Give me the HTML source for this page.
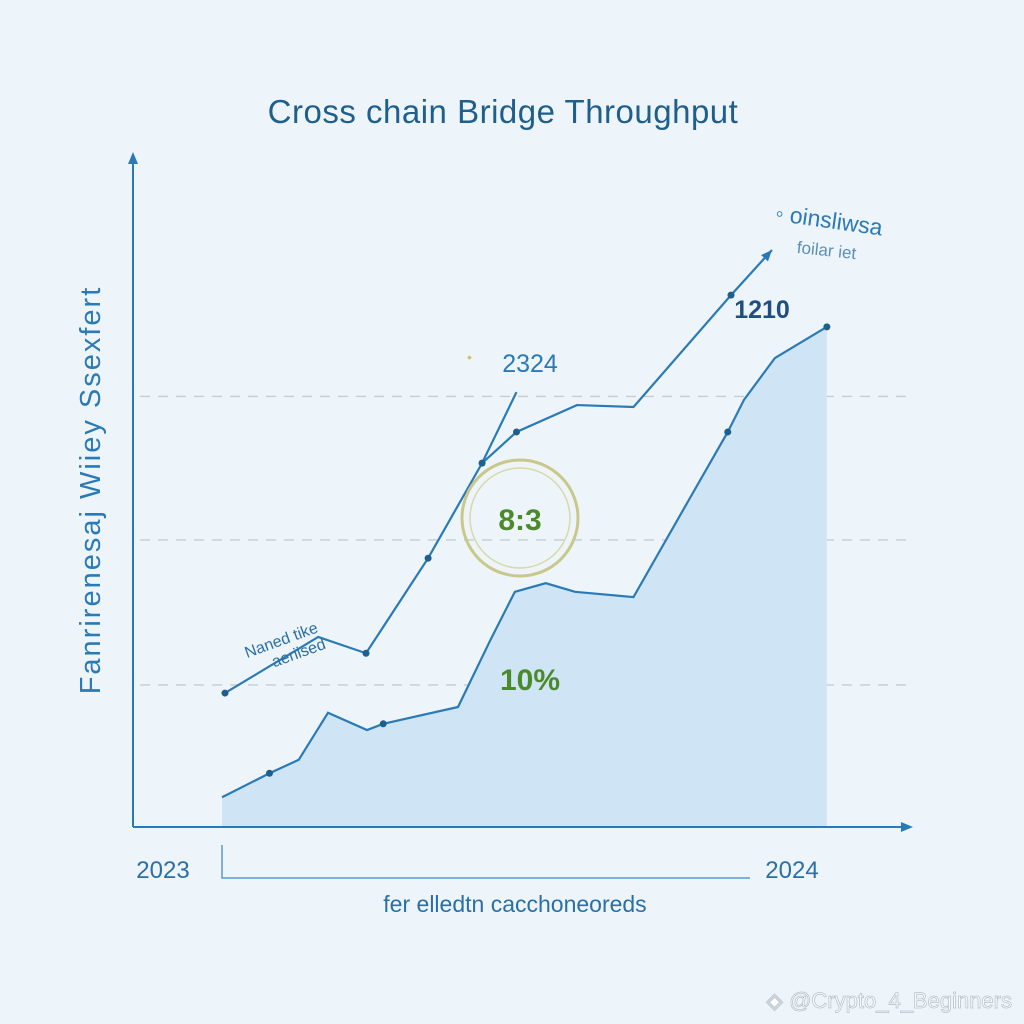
<!DOCTYPE html>
<html><head><meta charset="utf-8"><style>
html,body{margin:0;padding:0;background:#edf4fa;}
svg{display:block;font-family:"Liberation Sans",sans-serif;}
</style></head><body>
<svg id="chart" width="1024" height="1024" viewBox="0 0 1024 1024">
<rect width="1024" height="1024" fill="#eef5fa"/>
<text x="503" y="123" text-anchor="middle" font-size="33" letter-spacing="0.5" fill="#1f5f8b">Cross chain Bridge Throughput</text>
<g id="grid"></g>
<g id="marks"></g>
<line x1="133" y1="827" x2="133" y2="160" stroke="#2a7ab8" stroke-width="2"/>
<polygon points="133,152 128,164 138,164" fill="#2a7ab8"/>
<line x1="133" y1="827" x2="905" y2="827" stroke="#2a7ab8" stroke-width="2"/>
<polygon points="913,827 901,822 901,832" fill="#2a7ab8"/>
<text transform="translate(100,490) rotate(-90)" text-anchor="middle" font-size="29" letter-spacing="2" fill="#2a7ab8">Fanrirenesaj  Wiiey  Ssexfert</text>
<text x="163" y="878" text-anchor="middle" font-size="24" fill="#2a6fa5">2023</text>
<text x="792" y="878" text-anchor="middle" font-size="24" fill="#2a6fa5">2024</text>
<polyline points="222,845 222,878 750,878" fill="none" stroke="#5b9bc8" stroke-width="1.5"/>
<text x="515" y="912" text-anchor="middle" font-size="23" fill="#2a6fa5">fer elledtn cacchoneoreds</text>
<text x="530" y="372" text-anchor="middle" font-size="25" fill="#2a7ab8">2324</text>
<text x="467" y="362" font-size="14" fill="#d8c070">•</text>
<text x="762" y="318" text-anchor="middle" font-size="25" font-weight="bold" fill="#1f4f80">1210</text>
<circle cx="520" cy="518" r="58" fill="none" stroke="#c9c88a" stroke-width="3"/>
<circle cx="520" cy="518" r="50" fill="none" stroke="#d8d8a8" stroke-width="1.5"/>
<text x="520" y="530" text-anchor="middle" font-size="30" font-weight="bold" fill="#4a8a2a">8:3</text>
<text x="530" y="690" text-anchor="middle" font-size="30" font-weight="bold" fill="#4a8a2a">10%</text>
<text transform="translate(283,645) rotate(-20)" text-anchor="middle" font-size="16" fill="#2a6fa5"><tspan x="0" dy="0">Naned tike</tspan><tspan x="12" dy="18">aeriised</tspan></text>
<text transform="translate(828,228) rotate(8)" text-anchor="middle" font-size="23" fill="#2a7ab8">◦ oinsliwsa</text>
<text transform="translate(826,256) rotate(6)" text-anchor="middle" font-size="17" fill="#5b8fb8">foilar iet</text>
<text x="1012" y="1008" text-anchor="end" font-size="22" fill="#ffffff" stroke="#b8c4cc" stroke-width="0.8">◈ @Crypto_4_Beginners</text>
</svg>
<script>
const areaX=[2.74,4.2,5.1,6.0,7.2,7.7,10.0,11.0,11.75,12.7,13.6,15.4,17.1,18.3,18.8,19.75,21.35];
const areaY=[62,112,140,238,202,215,250,390,490,508,490,479,681,823,890,977,1042];
const line1X=[2.83,5.7,7.17,9.08,10.74,11.8];
const line1Y=[279,396,362,560,758,906];
const line2X=[10.74,11.8,13.66,15.4,18.4,19.66];
const line2Y=[758,823,879,875,1108,1202];
const gridValues=[897,598,296];
const areaDots=[1,5,13,16];
const line1Dots=[0,2,3,4];
const line2Dots=[1,4];
const sx=v=>133+v*32.5;
const sy=v=>827-v*0.48;
const NS="http://www.w3.org/2000/svg";
const grid=document.getElementById('grid'),marks=document.getElementById('marks');
gridValues.forEach((g,i)=>{const l=document.createElementNS(NS,'line');
l.setAttribute('x1',140);l.setAttribute('x2',906);l.setAttribute('y1',sy(g));l.setAttribute('y2',sy(g));
l.setAttribute('stroke','#c5ccd2');l.setAttribute('stroke-width','1.3');l.setAttribute('stroke-dasharray','10 8');


grid.appendChild(l);});
const pts=(X,Y)=>X.map((x,i)=>sx(x)+','+sy(Y[i])).join(' ');
const area=document.createElementNS(NS,'polygon');
area.setAttribute('points',pts(areaX,areaY)+' '+sx(areaX[areaX.length-1])+','+sy(0)+' '+sx(areaX[0])+','+sy(0));
area.setAttribute('fill','#cfe5f5');


marks.appendChild(area);
function line(X,Y,name){const p=document.createElementNS(NS,'polyline');
p.setAttribute('points',pts(X,Y));p.setAttribute('fill','none');p.setAttribute('stroke','#2a7ab8');p.setAttribute('stroke-width','2.2');


marks.appendChild(p);}
line(areaX,areaY,'area-line');line(line1X,line1Y,'series-line-1');line(line2X,line2Y,'series-line-2');
const n=line2X.length-1;const ax=sx(line2X[n]),ay=sy(line2Y[n]),bx=sx(line2X[n-1]),by=sy(line2Y[n-1]);
const ang=Math.atan2(ay-by,ax-bx);const ah=document.createElementNS(NS,'polygon');
const p1=[ax-12*Math.cos(ang-0.4),ay-12*Math.sin(ang-0.4)],p2=[ax-12*Math.cos(ang+0.4),ay-12*Math.sin(ang+0.4)];
ah.setAttribute('points',ax+','+ay+' '+p1.join(',')+' '+p2.join(','));ah.setAttribute('fill','#2a7ab8');


marks.appendChild(ah);
function dots(X,Y,idx,name){idx.forEach(i=>{const c=document.createElementNS(NS,'circle');
c.setAttribute('cx',sx(X[i]));c.setAttribute('cy',sy(Y[i]));c.setAttribute('r',3.5);c.setAttribute('fill','#1f5f8b');


marks.appendChild(c);});}
dots(areaX,areaY,areaDots,'area');dots(line1X,line1Y,line1Dots,'line1');dots(line2X,line2Y,line2Dots,'line2');
</script>
</body></html>
